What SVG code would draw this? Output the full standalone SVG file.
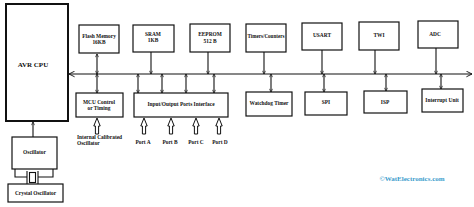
<svg xmlns="http://www.w3.org/2000/svg" width="474" height="207" viewBox="0 0 474 207">
<style>
  .box { fill: #fff; stroke: #111; stroke-width: 1.2; }
  .cpu { fill: #fff; stroke: #111; stroke-width: 2; }
  .t { font-family: "Liberation Serif", serif; font-weight: bold; font-size: 5.4px; fill: #111; text-anchor: middle; }
  .big { font-size: 7px; }
  .wm { font-family: "Liberation Serif", serif; font-weight: bold; font-size: 7px; fill: #3b9ccc; text-anchor: middle; }
  .c { stroke: #111; stroke-width: 1.1; fill: none; }
  .hollow { fill: #fff; stroke: #111; stroke-width: 1; }
</style>
<defs>
  <marker id="ah" viewBox="0 0 10 10" refX="9" refY="5" markerWidth="4" markerHeight="4" markerUnits="userSpaceOnUse" orient="auto-start-reverse">
    <path d="M1,1 L9,5 L1,9" fill="none" stroke="#111" stroke-width="1.6"/>
  </marker>
  <marker id="ahb" viewBox="0 0 10 10" refX="9" refY="5" markerWidth="7" markerHeight="7" markerUnits="userSpaceOnUse" orient="auto-start-reverse">
    <path d="M1,1 L9,5 L1,9" fill="none" stroke="#111" stroke-width="1.3"/>
  </marker>
  <path id="harrow" d="M-1.6,16 L-1.6,8 L-3.2,8 L0,0 L3.2,8 L1.6,8 L1.6,16 Z"/>
</defs>

<g id="connectors">
  <line class="c" x1="69" y1="74" x2="472" y2="74" marker-start="url(#ahb)" marker-end="url(#ahb)"/>
  <line class="c" x1="97" y1="54" x2="97" y2="74" marker-start="url(#ah)" marker-end="url(#ah)"/>
  <line class="c" x1="97" y1="74" x2="97" y2="93" marker-start="url(#ah)" marker-end="url(#ah)"/>
  <line class="c" x1="138" y1="74" x2="138" y2="93" marker-start="url(#ah)" marker-end="url(#ah)"/>
  <line class="c" x1="162" y1="74" x2="162" y2="93" marker-start="url(#ah)" marker-end="url(#ah)"/>
  <line class="c" x1="186" y1="74" x2="186" y2="93" marker-start="url(#ah)" marker-end="url(#ah)"/>
  <line class="c" x1="214" y1="74" x2="214" y2="93" marker-start="url(#ah)" marker-end="url(#ah)"/>
  <line class="c" x1="271" y1="74" x2="271" y2="92" marker-start="url(#ah)" marker-end="url(#ah)"/>
  <line class="c" x1="324" y1="74" x2="324" y2="92" marker-start="url(#ah)" marker-end="url(#ah)"/>
  <line class="c" x1="386" y1="74" x2="386" y2="91" marker-start="url(#ah)" marker-end="url(#ah)"/>
  <line class="c" x1="441" y1="74" x2="441" y2="89" marker-start="url(#ah)" marker-end="url(#ah)"/>
  <line class="c" x1="151" y1="52" x2="151" y2="74" marker-end="url(#ah)"/>
  <line class="c" x1="208" y1="52" x2="208" y2="74" marker-end="url(#ah)"/>
  <line class="c" x1="264" y1="52" x2="264" y2="74" marker-end="url(#ah)"/>
  <line class="c" x1="322" y1="50" x2="322" y2="74" marker-end="url(#ah)"/>
  <line class="c" x1="375" y1="50" x2="375" y2="74" marker-end="url(#ah)"/>
  <line class="c" x1="436" y1="48" x2="436" y2="74" marker-end="url(#ah)"/>
  <line class="c" x1="33" y1="137" x2="33" y2="122" marker-end="url(#ah)"/>
  <polyline class="c" points="15,169 15,177 27,177"/>
  <polyline class="c" points="53,169 53,177 38,177"/>
  <line class="c" x1="27" y1="171" x2="27" y2="184"/>
  <line class="c" x1="38" y1="171" x2="38" y2="184"/>
  <rect class="c" x="29.5" y="172.5" width="6" height="10"/>
  <use href="#harrow" class="hollow" x="97" y="118"/>
  <use href="#harrow" class="hollow" x="144" y="118"/>
  <use href="#harrow" class="hollow" x="171" y="118"/>
  <use href="#harrow" class="hollow" x="196" y="118"/>
  <use href="#harrow" class="hollow" x="219" y="118"/>
</g>

<g id="avr-cpu"><rect class="cpu" x="6" y="4" width="62" height="117"/><text class="t big" x="33" y="67">AVR CPU</text></g>
<g id="flash"><rect class="box" x="79" y="25" width="40" height="28"/><text class="t" x="99" y="38">Flash Memory</text><text class="t" x="99" y="44">16KB</text></g>
<g id="sram"><rect class="box" x="133" y="25" width="41" height="27"/><text class="t" x="153" y="36">SRAM</text><text class="t" x="153" y="42">1KB</text></g>
<g id="eeprom"><rect class="box" x="190" y="24" width="40" height="28"/><text class="t" x="210" y="36">EEPROM</text><text class="t" x="210" y="43">512 B</text></g>
<g id="timers"><rect class="box" x="246" y="24" width="40" height="28"/><text class="t" x="266" y="37.5" textLength="37" lengthAdjust="spacingAndGlyphs">Timers/Counters</text></g>
<g id="usart"><rect class="box" x="302" y="23" width="40" height="27"/><text class="t" x="322" y="37">USART</text></g>
<g id="twi"><rect class="box" x="359" y="22" width="40" height="28"/><text class="t" x="379" y="36.5">TWI</text></g>
<g id="adc"><rect class="box" x="418" y="21" width="40" height="27"/><text class="t" x="435" y="35.5">ADC</text></g>

<g id="mcu"><rect class="box" x="76" y="93" width="47" height="24"/><text class="t" x="99" y="103.5">MCU Control</text><text class="t" x="99" y="109.5">or Timing</text></g>
<g id="io"><rect class="box" x="134" y="93" width="94" height="24"/><text class="t" x="181" y="106">Input/Output Ports Interface</text></g>
<g id="watchdog"><rect class="box" x="246" y="92" width="46" height="24"/><text class="t" x="269" y="104.5">Watchdog Timer</text></g>
<g id="spi"><rect class="box" x="305" y="92" width="42" height="23"/><text class="t" x="326" y="104">SPI</text></g>
<g id="isp"><rect class="box" x="364" y="91" width="43" height="22"/><text class="t" x="385" y="103.5">ISP</text></g>
<g id="interrupt"><rect class="box" x="422" y="89" width="41" height="23"/><text class="t" x="442" y="101.5">Interrupt Unit</text></g>

<g id="oscillator"><rect class="box" x="12" y="137" width="45" height="32"/><text class="t" x="34.5" y="153.5">Oscillator</text></g>
<g id="crystal"><rect class="box" x="8" y="184" width="55" height="18"/><text class="t" x="35.5" y="194.5">Crystal Oscillator</text></g>

<g id="labels">
  <text class="t" x="77" y="138.5" text-anchor="start" style="text-anchor:start">Internal Calibrated</text>
  <text class="t" x="77" y="145" style="text-anchor:start">Oscillator</text>
  <text class="t" x="143" y="143.5">Port A</text>
  <text class="t" x="170" y="143.5">Port B</text>
  <text class="t" x="196" y="143.5">Port C</text>
  <text class="t" x="220" y="143.5">Port D</text>
  <text class="wm" x="412" y="181">©WatElectronics.com</text>
</g>
</svg>
